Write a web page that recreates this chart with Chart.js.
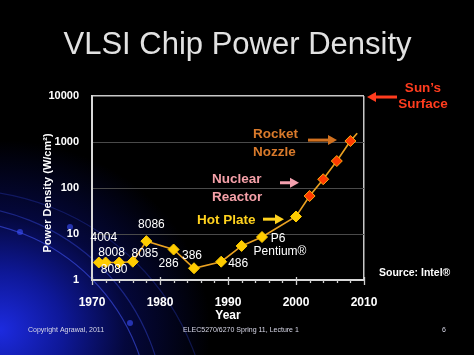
<!DOCTYPE html>
<html><head><meta charset="utf-8">
<script src="https://cdn.jsdelivr.net/npm/chart.js@4"></script>
<style>
html,body{margin:0;padding:0;width:474px;height:355px;overflow:hidden;background:#000;}
#wrap{position:relative;width:474px;height:355px;
background:
 radial-gradient(ellipse 210px 190px at 0px 330px, rgba(30,45,235,0.95) 0%, rgba(18,30,190,0.8) 30%, rgba(8,14,110,0.55) 60%, rgba(0,0,0,0) 100%),
 #000;}
canvas{position:absolute;left:0;top:0;}
</style></head><body><div id="wrap"><canvas id="c" width="474" height="355"></canvas></div>
<script>
// ---- data ----
const years = [1971, 1972, 1974, 1976, 1978, 1982, 1985, 1989, 1992, 1995, 2000, 2002, 2004, 2006, 2008];
const density = [2.4, 2.4, 2.4, 2.5, 7.0, 4.6, 1.8, 2.5, 5.5, 8.6, 24, 67, 155, 386, 1050];
const chipLabels = ['4004', '8008', '8080', '8085', '8086', '286', '386', '486', '', 'P6\nPentium®', '', '', '', '', ''];
const tailYears = [2008, 2009];
const tailDensity = [1050, 1550];
const xTickValues = [1970, 1980, 1990, 2000, 2010];
const xTickLabels = ['1970', '1980', '1990', '2000', '2010'];
const yTickValues = [1, 10, 100, 1000, 10000];
const yTickLabels = ['1', '10', '100', '1000', '10000'];
const refLabels = [['Sun’s', 'Surface'], ['Rocket', 'Nozzle'], ['Nuclear', 'Reactor'], ['Hot Plate']];
const refValues = [9500, 1100, 130, 21];

// ---- styles ----
const FONT = '"Liberation Sans", Arial, Helvetica, sans-serif';
const labelOffsets = [[[5,-25]], [[6,-10]], [[-5,7]], [[12,-8]], [[5,-16]], [[-5,14]], [[-2,-13]], [[17,2]], [], [[16,2],[18,15]]];
const refStyle = [
  {color:'#ff3c1e', arrowColor:'#ff3c1e', textX:423, align:'center', dys:[-9,7], tail:397, tip:367},
  {color:'#d97a2b', arrowColor:'#d2711f', textX:253, align:'left', dys:[-6,12], tail:308, tip:337},
  {color:'#f5a0a8', arrowColor:'#f3a0ae', textX:212, align:'left', dys:[-3,15], tail:280, tip:299},
  {color:'#ffd21e', arrowColor:'#ffd21e', textX:197, align:'left', dys:[1], tail:263, tip:284}
];

const bgPlugin = {
  id: 'bg',
  beforeDraw(chart) {
    const ctx = chart.ctx;
    ctx.save();
    ctx.lineWidth = 1.2;
    const arcs = [[-50, 420, 200, 'rgba(70,90,255,0.55)'], [-50, 420, 215, 'rgba(60,80,240,0.4)'], [-40, 440, 250, 'rgba(50,70,220,0.3)']];
    for (const [cx, cy, r, col] of arcs) {
      ctx.strokeStyle = col;
      ctx.beginPath();
      ctx.arc(cx, cy, r, -Math.PI/2, 0);
      ctx.stroke();
    }
    ctx.fillStyle = 'rgba(60,80,255,0.6)';
    for (const [px, py] of [[20,232],[70,227],[130,323]]) {
      ctx.beginPath(); ctx.arc(px, py, 3, 0, Math.PI*2); ctx.fill();
    }
    ctx.restore();
  }
};

const textPlugin = {
  id: 'texts',
  afterDraw(chart) {
    const ctx = chart.ctx;
    const xs = chart.scales.x, ys = chart.scales.y;
    const bottom = chart.chartArea.bottom;
    ctx.save();
    // minor/major x ticks
    ctx.strokeStyle = '#cfcfcf';
    ctx.lineWidth = 1.3;
    for (let yr = 1970; yr <= 2010; yr += 2) {
      const px = Math.round(xs.getPixelForValue(yr)) + 0.5;
      const major = (yr % 10 === 0);
      ctx.beginPath();
      ctx.moveTo(px, major ? bottom - 3 : bottom);
      ctx.lineTo(px, major ? bottom + 5 : bottom + 3);
      ctx.stroke();
    }
    // title
    ctx.fillStyle = '#e2e2e2';
    ctx.textAlign = 'center';
    ctx.textBaseline = 'middle';
    ctx.font = '31px ' + FONT;
    ctx.fillText('VLSI Chip Power Density', 237.5, 45);
    // axis titles
    ctx.fillStyle = '#ffffff';
    ctx.font = 'bold 12px ' + FONT;
    ctx.fillText('Year', (chart.chartArea.left + chart.chartArea.right) / 2, 316);
    ctx.save();
    ctx.translate(47.5, 193);
    ctx.rotate(-Math.PI / 2);
    ctx.font = 'bold 11px ' + FONT;
    ctx.fillText('Power Density (W/cm²)', 0, 0);
    ctx.restore();
    // point labels
    const meta = chart.getDatasetMeta(1);
    ctx.font = '12px ' + FONT;
    ctx.fillStyle = '#ffffff';
    chipLabels.forEach((lab, i) => {
      if (!lab) return;
      const el = meta.data[i];
      lab.split('\n').forEach((line, j) => {
        const off = labelOffsets[i][j];
        ctx.fillText(line, el.x + off[0], el.y + off[1]);
      });
    });
    // reference annotations
    ctx.font = 'bold 13.5px ' + FONT;
    refLabels.forEach((lines, i) => {
      const st = refStyle[i];
      const ay = ys.getPixelForValue(refValues[i]);
      ctx.fillStyle = st.color;
      ctx.textAlign = st.align;
      lines.forEach((line, j) => ctx.fillText(line, st.textX, ay + st.dys[j]));
      // arrow
      const dir = Math.sign(st.tip - st.tail);
      ctx.strokeStyle = st.arrowColor;
      ctx.fillStyle = st.arrowColor;
      ctx.lineWidth = 3;
      ctx.beginPath();
      ctx.moveTo(st.tail, ay);
      ctx.lineTo(st.tip - dir * 7, ay);
      ctx.stroke();
      ctx.beginPath();
      ctx.moveTo(st.tip, ay);
      ctx.lineTo(st.tip - dir * 9, ay - 5);
      ctx.lineTo(st.tip - dir * 9, ay + 5);
      ctx.closePath();
      ctx.fill();
    });
    // source
    ctx.textAlign = 'left';
    ctx.fillStyle = '#ffffff';
    ctx.font = 'bold 10.5px ' + FONT;
    ctx.fillText('Source: Intel®', 379, 273);
    // footer
    ctx.fillStyle = '#d8d8e8';
    ctx.font = '7px ' + FONT;
    ctx.fillText('Copyright Agrawal, 2011', 28, 330);
    ctx.fillText('ELEC5270/6270 Spring 11, Lecture 1', 183, 330);
    ctx.fillText('6', 442, 330);
    ctx.restore();
  }
};

new Chart(document.getElementById('c'), {
  type: 'line',
  data: {
    datasets: [
      {
        data: tailYears.map((x, i) => ({x, y: tailDensity[i]})),
        borderColor: '#eaa222', borderWidth: 1.6, pointRadius: 0, tension: 0, order: 2
      },
      {
        data: years.map((x, i) => ({x, y: density[i]})),
        borderColor: '#eaa222', borderWidth: 1.6, tension: 0, order: 1,
        pointStyle: 'rectRot', pointRadius: 5.5, pointBorderWidth: 1,
        pointBackgroundColor: c => (c.raw && c.raw.x > 2000) ? '#ff3a00' : '#ffcc00',
        pointBorderColor: c => (c.raw && c.raw.x > 2000) ? '#ffaa10' : '#ffcc00'
      }
    ]
  },
  options: {
    responsive: false,
    animation: false,
    clip: false,
    layout: { padding: { left: 0, right: 110, top: 96, bottom: 0 } },
    plugins: { legend: { display: false }, tooltip: { enabled: false }, title: { display: false } },
    scales: {
      x: {
        type: 'linear', min: 1970, max: 2010,
        afterBuildTicks: s => { s.ticks = xTickValues.map(v => ({value: v})); },
        afterFit: s => { s.height = 75; },
        ticks: { color: '#ffffff', font: { family: FONT, size: 12, weight: 'bold' }, padding: 15,
                 callback: (v, i) => xTickLabels[i], maxRotation: 0, autoSkip: false },
        grid: { drawTicks: false, lineWidth: 1.5,
                color: c => (c.tick && c.tick.value === 2010) ? '#c8c8c8' : 'rgba(0,0,0,0)' },
        border: { display: true, color: '#d8d8d8', width: 2 }
      },
      y: {
        type: 'logarithmic', min: 1, max: 10000,
        afterBuildTicks: s => { s.ticks = yTickValues.map(v => ({value: v})); },
        afterFit: s => { s.width = 92; },
        ticks: { color: '#ffffff', font: { family: FONT, size: 11, weight: 'bold' }, padding: 13,
                 callback: (v, i) => yTickLabels[i], autoSkip: false },
        grid: { drawTicks: false,
                lineWidth: c => (c.tick && c.tick.value === 10000) ? 1.5 : 1,
                color: c => (c.tick && c.tick.value === 10000) ? '#c8c8c8' : '#4a4a4a' },
        border: { display: true, color: '#d8d8d8', width: 2 }
      }
    }
  },
  plugins: [bgPlugin, textPlugin]
});
</script>
</body></html>
